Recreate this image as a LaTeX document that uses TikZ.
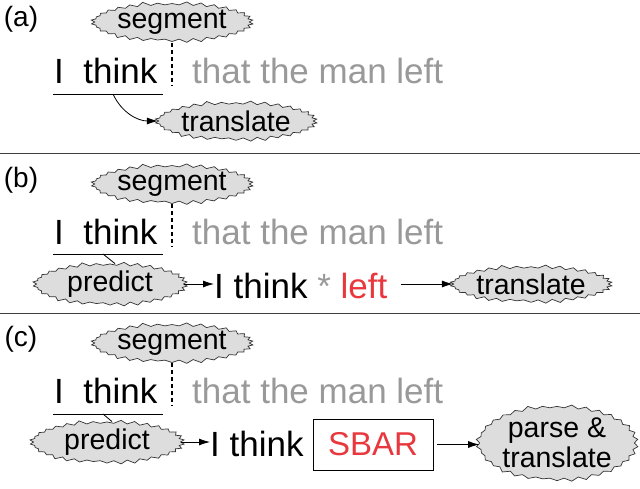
\documentclass[tikz,border=0pt]{standalone}
\usepackage{fontspec}
\setmainfont{Liberation Sans}
\usetikzlibrary{shapes.symbols,arrows.meta}
\definecolor{txtgray}{HTML}{999999}
\definecolor{txtred}{HTML}{E8383D}
\definecolor{burstfill}{HTML}{DDDDDD}
\begin{document}
\begin{tikzpicture}[x=1pt,y=1pt,
  burst/.style={shape=starburst, starburst points=34, starburst point height=4pt, random starburst=3, fill=burstfill, draw=black!80, line width=0.7pt, inner sep=0pt, minimum width=155pt, minimum height=40pt, font=\fontsize{28.5}{30}\selectfont},
  big/.style={font=\fontsize{35}{40}\selectfont, inner sep=0pt, anchor=base west},
  lab/.style={font=\fontsize{28}{30}\selectfont, inner sep=0pt},
  arr/.style={-{Latex[length=11pt,width=7pt]}, line width=0.8pt},
  sepline/.style={draw=black!75, line width=0.9pt},
  dotl/.style={line width=2.2pt, dash pattern=on 4pt off 3pt},
  under/.style={line width=0.8pt}]
\useasboundingbox (0,0) rectangle (640,-488);

% ---------- (a)
\node[lab] (la) at (21,-19) {(a)};
\node[burst] (sega) at (172,-22) {segment};
\node[big] (ita) at (54,-83) {I\ \ think};
\node[big, text=txtgray] (resta) at (192,-83) {that the man left};
\coordinate (da1) at (172,-43); \coordinate (da2) at (172,-86);
\draw[dotl] (da1) -- (da2);
\coordinate (ua1) at (53,-94); \coordinate (ua2) at (163,-94);
\draw[under] (ua1) -- (ua2);
\node[burst, minimum height=42pt] (tra) at (236,-121) {translate};
\coordinate (ca) at (113,-94);
\draw[arr] (ca) to[out=-65,in=180] (tra.west);
\coordinate (s1a) at (0,-153); \coordinate (s1b) at (640,-153);
\draw[sepline] (s1a) -- (s1b);

% ---------- (b)
\node[lab] (lb) at (21,-180) {(b)};
\node[burst] (segb) at (172,-184) {segment};
\node[big] (itb) at (54,-244) {I\ \ think};
\node[big, text=txtgray] (restb) at (192,-244) {that the man left};
\coordinate (db1) at (172,-204); \coordinate (db2) at (172,-247);
\draw[dotl] (db1) -- (db2);
\coordinate (ub1) at (53,-254); \coordinate (ub2) at (163,-254);
\draw[under] (ub1) -- (ub2);
\node[burst, minimum height=38pt] (predb) at (110,-284) {predict};
\coordinate (cb) at (103,-254);
\draw[under] (cb) -- ([xshift=5pt]predb.north);
\node[big] (outb) at (214,-298) {I think {\color{txtgray}*} {\color{txtred}left}};
\draw[arr] (predb.east) -- (predb.east -| outb.west);
\node[burst, minimum height=40pt] (trb) at (531,-284) {translate};
\draw[arr, shorten <=13pt] (outb.east |- trb.west) -- (trb.west);
\coordinate (s2a) at (0,-313); \coordinate (s2b) at (640,-313);
\draw[sepline] (s2a) -- (s2b);

% ---------- (c)
\node[lab] (lc) at (21,-339) {(c)};
\node[burst] (segc) at (172,-343) {segment};
\node[big] (itc) at (54,-403) {I\ \ think};
\node[big, text=txtgray] (restc) at (192,-403) {that the man left};
\coordinate (dc1) at (172,-363); \coordinate (dc2) at (172,-406);
\draw[dotl] (dc1) -- (dc2);
\coordinate (uc1) at (53,-414); \coordinate (uc2) at (163,-414);
\draw[under] (uc1) -- (uc2);
\node[burst, minimum height=38pt] (predc) at (107,-442) {predict};
\coordinate (cc) at (103,-414);
\draw[under] (cc) -- ([xshift=5pt]predc.north);
\node[big] (outc) at (210,-456) {I think};
\draw[arr] (predc.east) -- (predc.east -| outc.west);
\node[draw, line width=0.8pt, minimum width=120pt, minimum height=51pt, text=txtred, font=\fontsize{33}{36}\selectfont] (sbar) at (373,-444.5) {SBAR};
\node[burst, align=center, minimum width=159pt, minimum height=75pt] (pt) at (557,-443) {parse \&\\translate};
\draw[arr, shorten <=4pt] (sbar.east) -- (sbar.east -| pt.west);
\end{tikzpicture}
\end{document}
